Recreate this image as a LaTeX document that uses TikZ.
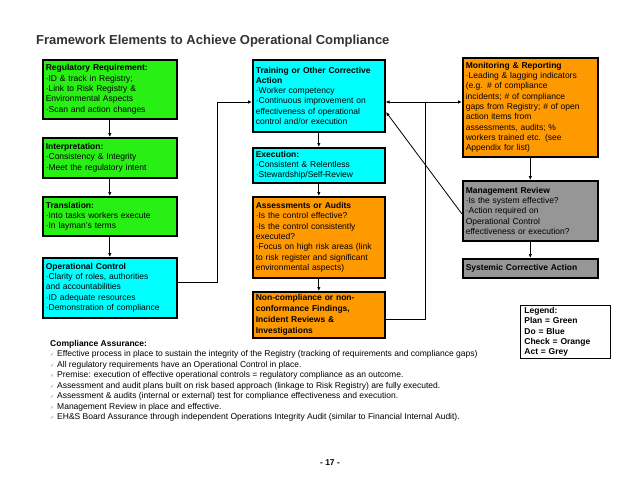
\documentclass[tikz,border=0pt]{standalone}
\usepackage{fontspec}
\setmainfont{Liberation Sans}
\newfontfamily\dejavu{DejaVu Sans}
\usetikzlibrary{arrows.meta,calc}
\definecolor{pgreen}{RGB}{40,240,20}
\definecolor{pcyan}{RGB}{0,255,255}
\definecolor{porange}{RGB}{255,153,0}
\definecolor{pgrey}{RGB}{150,150,150}
\definecolor{titlegrey}{RGB}{51,51,51}
\newcommand{\ck}{\makebox[7pt][l]{\dejavu\fontsize{5}{5}\selectfont\color{gray}✓}}
\begin{document}
\begin{tikzpicture}[x=1pt,y=-1pt,
  box/.style={draw=black,line width=1.6pt,anchor=north west,align=left,
    inner xsep=3pt,inner ysep=2pt,font=\fontsize{8.5}{10.3}\selectfont},
  arr/.style={line width=0.8pt,-{Latex[length=4pt,width=3.5pt]}},
  ln/.style={line width=0.8pt}]
\useasboundingbox[fill=white] (0,0) rectangle (638,479);
\node[anchor=base west,font=\fontsize{13}{15}\selectfont\bfseries,text=titlegrey,inner sep=0] (title) at (36,45) {Framework Elements to Achieve Operational Compliance};
% left column
\node[box,fill=pgreen,text width=128pt,minimum height=59pt] (reg) at (42,59)
 {\textbf{Regulatory Requirement:}\\·ID \&  track in Registry;\\·Link to Risk Registry \&\\Environmental Aspects\\·Scan and action changes};
\node[box,fill=pgreen,text width=128pt,minimum height=40pt] (int) at (42,137)
 {\textbf{Interpretation:}\\·Consistency \& Integrity\\·Meet the regulatory intent};
\node[box,fill=pgreen,text width=128pt,minimum height=39pt] (tra) at (42,196)
 {\textbf{Translation:}\\·Into tasks workers execute\\·In layman's terms};
\node[box,fill=pcyan,text width=128pt,minimum height=60pt] (oc) at (42,257)
 {\textbf{Operational Control}\\·Clarity of roles, authorities\\and accountabilities\\·ID adequate resources\\·Demonstration of compliance};
% middle column
\node[box,fill=pcyan,text width=126pt,minimum height=72pt] (trn) at (252,59)
 {\textbf{Training or Other Corrective}\\\textbf{Action}\\·Worker competency\\·Continuous improvement on\\effectiveness of operational\\control and/or execution};
\node[box,fill=pcyan,text width=126pt,minimum height=35pt] (exe) at (252,147)
 {\textbf{Execution:}\\·Consistent \& Relentless\\·Stewardship/Self-Review};
\node[box,fill=porange,text width=126pt,minimum height=81pt] (ass) at (252,196)
 {\textbf{Assessments or Audits}\\·Is the control effective?\\·Is the control consistently\\executed?\\·Focus on high risk areas (link\\to risk register and significant\\environmental aspects)};
\node[box,fill=porange,text width=126pt,minimum height=46pt,font=\fontsize{8.5}{10.8}\selectfont\bfseries] (nc) at (252,291)
 {Non-compliance or non-\\conformance Findings,\\Incident Reviews \&\\Investigations};
% right column
\node[box,fill=porange,text width=129pt,minimum height=99pt] (mon) at (462,57)
 {\textbf{Monitoring \& Reporting}\\·Leading \& lagging indicators\\(e.g. \# of compliance\\incidents; \# of compliance\\gaps from Registry; \# of open\\action items from\\assessments, audits; \%\\workers trained etc. (see\\Appendix for list)};
\node[box,fill=pgrey,text width=129pt,minimum height=60pt] (mr) at (462,180)
 {\textbf{Management Review}\\·Is the system effective?\\·Action required on\\Operational Control\\effectiveness or execution?};
\node[box,fill=pgrey,text width=129pt,minimum height=19pt] (sca) at (462,258)
 {\textbf{Systemic Corrective Action}};
% legend
\node[draw=black,line width=0.8pt,anchor=north west,align=left,text width=82pt,minimum height=51pt,
  inner xsep=4pt,inner ysep=2pt,font=\fontsize{8.5}{10.3}\selectfont\bfseries] (leg) at (520,305)
 {Legend:\\Plan = Green\\Do = Blue\\Check = Orange\\Act = Grey};
% compliance assurance
\node[anchor=north west,align=left,inner sep=0,font=\fontsize{8.5}{10.5}\selectfont] (ca) at (50,340)
 {\textbf{Compliance Assurance:}\\
 \ck Effective process in place to sustain the integrity of the Registry (tracking of requirements and compliance gaps)\\
 \ck All regulatory requirements have an Operational Control in place.\\
 \ck Premise: execution of effective operational controls = regulatory compliance as an outcome.\\
 \ck Assessment and audit plans built on risk based approach (linkage to Risk Registry) are fully executed.\\
 \ck Assessment \& audits (internal or external)  test for compliance effectiveness and execution.\\
 \ck Management Review in place and effective.\\
 \ck EH\&S Board Assurance through independent Operations Integrity Audit (similar to Financial Internal Audit).};
\node[font=\fontsize{8.5}{10}\selectfont\bfseries,inner sep=0] (pg) at (330,463) {- 17 -};
% vertical arrows
\draw[arr] (reg.south) -- (int.north);
\draw[arr] (int.south) -- (tra.north);
\draw[arr] (tra.south) -- (oc.north);
\draw[arr] (trn.south) -- (exe.north);
\draw[arr] (exe.south) -- (ass.north);
\draw[arr] (ass.south) -- (nc.north);
\draw[arr] (mon.south) -- (mr.north);
\draw[arr] (mr.south) -- (sca.north);
% OC to training
\coordinate (j1) at (217,282);
\coordinate (j2) at (217,102);
\draw[arr] (oc.east |- j1) -- (j1) -- (j2) -- (trn.west |- j2);
% NC feedback
\coordinate (j3) at (425,319);
\coordinate (j4) at (425,102);
\draw[ln] (nc.east |- j3) -- (j3) -- (j4);
\draw[arr] (j4) -- (trn.east |- j4);
\draw[arr] (j4) -- (mon.west |- j4);
% management review to training
\coordinate (d1) at (462,214);
\coordinate (d2) at (386,112);
\draw[arr] (mr.west |- d1) -- (d2);
\end{tikzpicture}
\end{document}
